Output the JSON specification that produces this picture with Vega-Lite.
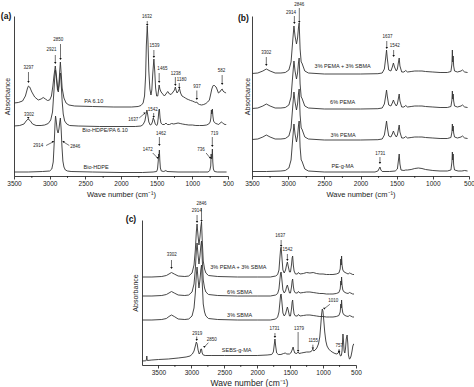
{
"$schema": "https://vega.github.io/schema/vega-lite/v6.json",
"padding": {"left": 0, "top": 1, "right": 0, "bottom": 0},
"config": {
 "view": {"stroke": null},
 "font": "Liberation Sans",
 "axis": {"labelOverlap": false},
 "axisX": {"grid": false, "domainColor": "#111", "domainWidth": 0.8, "tickColor": "#111", "tickSize": 3, "tickWidth": 0.8, "labelFontSize": 6.5, "labelColor": "#222", "labelPadding": 1.5, "titleFontSize": 7.5, "titleFontWeight": "normal", "titleColor": "#222", "titlePadding": 3, "labelFlush": false, "labelOverlap": false, "tickCount": 7},
 "axisY": {"grid": false, "labels": false, "ticks": false, "domainColor": "#111", "domainWidth": 0.8, "titleFontSize": 7, "titleFontWeight": "normal", "titleColor": "#222", "titlePadding": 4}
},
"datasets": {
 "minor": [{"x":3250},{"x":2750},{"x":2250},{"x":1750},{"x":1250},{"x":750}],
 "a_spectra": [
  {"s":"PA","x":3500,"y":73},{"s":"PA","x":3440,"y":73.5},{"s":"PA","x":3380,"y":75},{"s":"PA","x":3340,"y":80},{"s":"PA","x":3310,"y":88},{"s":"PA","x":3297,"y":90},{"s":"PA","x":3280,"y":89},{"s":"PA","x":3250,"y":84},{"s":"PA","x":3210,"y":79},{"s":"PA","x":3160,"y":76},{"s":"PA","x":3120,"y":77},{"s":"PA","x":3090,"y":78.5},{"s":"PA","x":3060,"y":77},{"s":"PA","x":3030,"y":75.5},{"s":"PA","x":3000,"y":76},{"s":"PA","x":2975,"y":80},{"s":"PA","x":2955,"y":90},{"s":"PA","x":2940,"y":100},{"s":"PA","x":2921,"y":110},{"s":"PA","x":2905,"y":100},{"s":"PA","x":2885,"y":86},{"s":"PA","x":2872,"y":90},{"s":"PA","x":2860,"y":104},{"s":"PA","x":2850,"y":114},{"s":"PA","x":2840,"y":104},{"s":"PA","x":2825,"y":88},{"s":"PA","x":2800,"y":78},{"s":"PA","x":2770,"y":73},{"s":"PA","x":2730,"y":71},{"s":"PA","x":2650,"y":70},{"s":"PA","x":2400,"y":69.5},{"s":"PA","x":2100,"y":69},{"s":"PA","x":1850,"y":69},{"s":"PA","x":1760,"y":69.5},{"s":"PA","x":1720,"y":70.5},{"s":"PA","x":1690,"y":73},{"s":"PA","x":1670,"y":80},{"s":"PA","x":1655,"y":100},{"s":"PA","x":1645,"y":130},{"s":"PA","x":1632,"y":150},{"s":"PA","x":1622,"y":135},{"s":"PA","x":1610,"y":105},{"s":"PA","x":1595,"y":87},{"s":"PA","x":1580,"y":81},{"s":"PA","x":1568,"y":86},{"s":"PA","x":1555,"y":102},{"s":"PA","x":1539,"y":117},{"s":"PA","x":1527,"y":105},{"s":"PA","x":1515,"y":88},{"s":"PA","x":1500,"y":80},{"s":"PA","x":1485,"y":80},{"s":"PA","x":1475,"y":85},{"s":"PA","x":1465,"y":91},{"s":"PA","x":1455,"y":87},{"s":"PA","x":1438,"y":84},{"s":"PA","x":1415,"y":82},{"s":"PA","x":1392,"y":80},{"s":"PA","x":1370,"y":82},{"s":"PA","x":1345,"y":84.5},{"s":"PA","x":1320,"y":82},{"s":"PA","x":1298,"y":81.5},{"s":"PA","x":1270,"y":84},{"s":"PA","x":1250,"y":86},{"s":"PA","x":1238,"y":89},{"s":"PA","x":1225,"y":85},{"s":"PA","x":1214,"y":83},{"s":"PA","x":1195,"y":85},{"s":"PA","x":1180,"y":87.5},{"s":"PA","x":1165,"y":83},{"s":"PA","x":1145,"y":80},{"s":"PA","x":1120,"y":79},{"s":"PA","x":1098,"y":78},{"s":"PA","x":1075,"y":77},{"s":"PA","x":1051,"y":76.3},{"s":"PA","x":1025,"y":75.5},{"s":"PA","x":1000,"y":75},{"s":"PA","x":970,"y":74},{"s":"PA","x":950,"y":73.5},{"s":"PA","x":937,"y":74},{"s":"PA","x":925,"y":72.5},{"s":"PA","x":900,"y":71.5},{"s":"PA","x":870,"y":71},{"s":"PA","x":840,"y":71.5},{"s":"PA","x":810,"y":72.5},{"s":"PA","x":785,"y":74},{"s":"PA","x":761,"y":76},{"s":"PA","x":745,"y":81},{"s":"PA","x":727,"y":87},{"s":"PA","x":712,"y":90},{"s":"PA","x":699,"y":91},{"s":"PA","x":685,"y":90},{"s":"PA","x":667,"y":89},{"s":"PA","x":650,"y":86},{"s":"PA","x":634,"y":83},{"s":"PA","x":615,"y":84},{"s":"PA","x":597,"y":86},{"s":"PA","x":582,"y":87},{"s":"PA","x":570,"y":85},{"s":"PA","x":555,"y":84},{"s":"PA","x":540,"y":83.5},{"s":"PA","x":527,"y":83},
  {"s":"MIX","x":3500,"y":50},{"s":"MIX","x":3420,"y":50.5},{"s":"MIX","x":3360,"y":52},{"s":"MIX","x":3330,"y":55},{"s":"MIX","x":3302,"y":57},{"s":"MIX","x":3275,"y":55.5},{"s":"MIX","x":3240,"y":52},{"s":"MIX","x":3190,"y":50.5},{"s":"MIX","x":3120,"y":50.5},{"s":"MIX","x":3070,"y":51},{"s":"MIX","x":3020,"y":52.5},{"s":"MIX","x":2985,"y":56},{"s":"MIX","x":2960,"y":64},{"s":"MIX","x":2940,"y":85},{"s":"MIX","x":2928,"y":100},{"s":"MIX","x":2918,"y":106},{"s":"MIX","x":2905,"y":97},{"s":"MIX","x":2890,"y":86},{"s":"MIX","x":2878,"y":84},{"s":"MIX","x":2866,"y":92},{"s":"MIX","x":2856,"y":101},{"s":"MIX","x":2848,"y":103},{"s":"MIX","x":2838,"y":92},{"s":"MIX","x":2825,"y":75},{"s":"MIX","x":2810,"y":62},{"s":"MIX","x":2790,"y":55},{"s":"MIX","x":2760,"y":52},{"s":"MIX","x":2720,"y":50.5},{"s":"MIX","x":2600,"y":50},{"s":"MIX","x":2300,"y":49.5},{"s":"MIX","x":2000,"y":49.5},{"s":"MIX","x":1800,"y":49.5},{"s":"MIX","x":1720,"y":50},{"s":"MIX","x":1690,"y":51.5},{"s":"MIX","x":1665,"y":55},{"s":"MIX","x":1650,"y":61},{"s":"MIX","x":1637,"y":66},{"s":"MIX","x":1625,"y":61},{"s":"MIX","x":1610,"y":54},{"s":"MIX","x":1590,"y":51},{"s":"MIX","x":1575,"y":51.5},{"s":"MIX","x":1560,"y":54},{"s":"MIX","x":1548,"y":58},{"s":"MIX","x":1535,"y":56},{"s":"MIX","x":1520,"y":52},{"s":"MIX","x":1500,"y":50.5},{"s":"MIX","x":1488,"y":52},{"s":"MIX","x":1478,"y":58},{"s":"MIX","x":1468,"y":66},{"s":"MIX","x":1462,"y":67},{"s":"MIX","x":1452,"y":58},{"s":"MIX","x":1440,"y":53},{"s":"MIX","x":1420,"y":51.5},{"s":"MIX","x":1390,"y":51.5},{"s":"MIX","x":1370,"y":53},{"s":"MIX","x":1350,"y":51.5},{"s":"MIX","x":1320,"y":51.5},{"s":"MIX","x":1290,"y":52.5},{"s":"MIX","x":1260,"y":52},{"s":"MIX","x":1230,"y":52.5},{"s":"MIX","x":1200,"y":53},{"s":"MIX","x":1170,"y":52.5},{"s":"MIX","x":1140,"y":52},{"s":"MIX","x":1100,"y":51.5},{"s":"MIX","x":1050,"y":51},{"s":"MIX","x":1000,"y":51},{"s":"MIX","x":950,"y":50.5},{"s":"MIX","x":900,"y":50.5},{"s":"MIX","x":850,"y":50.5},{"s":"MIX","x":800,"y":51},{"s":"MIX","x":770,"y":52},{"s":"MIX","x":750,"y":54},{"s":"MIX","x":740,"y":58},{"s":"MIX","x":733,"y":66},{"s":"MIX","x":728,"y":62},{"s":"MIX","x":722,"y":64},{"s":"MIX","x":719,"y":67},{"s":"MIX","x":712,"y":60},{"s":"MIX","x":702,"y":55},{"s":"MIX","x":690,"y":53.5},{"s":"MIX","x":670,"y":52.5},{"s":"MIX","x":650,"y":52},{"s":"MIX","x":630,"y":51.5},{"s":"MIX","x":610,"y":53},{"s":"MIX","x":595,"y":54},{"s":"MIX","x":580,"y":53.5},{"s":"MIX","x":560,"y":52},{"s":"MIX","x":540,"y":51.5},{"s":"MIX","x":525,"y":51.5},
  {"s":"HDPE","x":3500,"y":4},{"s":"HDPE","x":3300,"y":4},{"s":"HDPE","x":3100,"y":4.5},{"s":"HDPE","x":3000,"y":5},{"s":"HDPE","x":2970,"y":7},{"s":"HDPE","x":2950,"y":14},{"s":"HDPE","x":2935,"y":35},{"s":"HDPE","x":2925,"y":52},{"s":"HDPE","x":2918,"y":60},{"s":"HDPE","x":2908,"y":55},{"s":"HDPE","x":2895,"y":46},{"s":"HDPE","x":2882,"y":43},{"s":"HDPE","x":2870,"y":47},{"s":"HDPE","x":2858,"y":54},{"s":"HDPE","x":2850,"y":58},{"s":"HDPE","x":2840,"y":48},{"s":"HDPE","x":2828,"y":30},{"s":"HDPE","x":2815,"y":15},{"s":"HDPE","x":2800,"y":9},{"s":"HDPE","x":2780,"y":6},{"s":"HDPE","x":2750,"y":5},{"s":"HDPE","x":2700,"y":4.5},{"s":"HDPE","x":2400,"y":4},{"s":"HDPE","x":2000,"y":3.5},{"s":"HDPE","x":1700,"y":3.5},{"s":"HDPE","x":1550,"y":4},{"s":"HDPE","x":1500,"y":4.5},{"s":"HDPE","x":1488,"y":7},{"s":"HDPE","x":1478,"y":15},{"s":"HDPE","x":1472,"y":22},{"s":"HDPE","x":1468,"y":19},{"s":"HDPE","x":1462,"y":26},{"s":"HDPE","x":1456,"y":16},{"s":"HDPE","x":1448,"y":8},{"s":"HDPE","x":1435,"y":5},{"s":"HDPE","x":1400,"y":4.5},{"s":"HDPE","x":1370,"y":5.5},{"s":"HDPE","x":1355,"y":4.5},{"s":"HDPE","x":1200,"y":4},{"s":"HDPE","x":900,"y":4},{"s":"HDPE","x":780,"y":4},{"s":"HDPE","x":755,"y":5.5},{"s":"HDPE","x":742,"y":10},{"s":"HDPE","x":736,"y":22},{"s":"HDPE","x":730,"y":17},{"s":"HDPE","x":724,"y":19},{"s":"HDPE","x":719,"y":27},{"s":"HDPE","x":713,"y":14},{"s":"HDPE","x":705,"y":7},{"s":"HDPE","x":690,"y":4.5},{"s":"HDPE","x":650,"y":4},{"s":"HDPE","x":520,"y":4}
 ],
 "a_labels": [
  {"t":"3297","x":3297,"y":108},{"t":"2921","x":2975,"y":126},{"t":"2850","x":2879,"y":136},{"t":"1632","x":1635,"y":159},{"t":"1539","x":1532,"y":130},{"t":"1465","x":1420,"y":107},{"t":"1238","x":1232,"y":102},{"t":"1180","x":1150,"y":96},{"t":"937","x":933,"y":89},{"t":"582","x":590,"y":105},{"t":"3302","x":3290,"y":61.5},{"t":"1637","x":1830,"y":56},{"t":"1542","x":1555,"y":66.5},{"t":"2914","x":3160,"y":30},{"t":"2846","x":2640,"y":29},{"t":"1472","x":1625,"y":26.5},{"t":"1462","x":1440,"y":42.5},{"t":"736","x":880,"y":26.5},{"t":"719","x":690,"y":42.5}
 ],
 "a_arrows": [
  {"x1":3297,"y1":104,"x2":3297,"y2":94},{"x1":2921,"y1":121,"x2":2921,"y2":113},{"x1":2848,"y1":132,"x2":2848,"y2":117},{"x1":1632,"y1":155,"x2":1632,"y2":151},{"x1":1539,"y1":126,"x2":1539,"y2":119},{"x1":1465,"y1":103,"x2":1465,"y2":94},{"x1":1238,"y1":99,"x2":1238,"y2":91},{"x1":1183,"y1":93,"x2":1183,"y2":88},{"x1":937,"y1":85.5,"x2":937,"y2":77},{"x1":582,"y1":101,"x2":582,"y2":92},{"x1":3300,"y1":59,"x2":3300,"y2":58},{"x1":1745,"y1":58,"x2":1670,"y2":62.5},{"x1":1542,"y1":63,"x2":1542,"y2":59},{"x1":3050,"y1":30.5,"x2":2955,"y2":34},{"x1":2725,"y1":30.5,"x2":2805,"y2":34},{"x1":1555,"y1":23,"x2":1487,"y2":18},{"x1":1462,"y1":39,"x2":1462,"y2":31},{"x1":807,"y1":23,"x2":750,"y2":18},{"x1":720,"y1":39,"x2":720,"y2":30}
 ],
 "a_names": [
  {"t":"PA 6.10","x":2382,"y":74.7},{"t":"Bio-HDPE/PA 6.10","x":2224,"y":45.7},{"t":"Bio-HDPE","x":2350,"y":9}
 ],
 "b_spectra": [
  {"s":"T","x":3500,"y":102.5},{"s":"T","x":3420,"y":103},{"s":"T","x":3350,"y":105},{"s":"T","x":3302,"y":107},{"s":"T","x":3250,"y":105},{"s":"T","x":3180,"y":103},{"s":"T","x":3100,"y":103},{"s":"T","x":3040,"y":103.5},{"s":"T","x":2990,"y":106},{"s":"T","x":2960,"y":114},{"s":"T","x":2935,"y":137},{"s":"T","x":2920,"y":150},{"s":"T","x":2905,"y":140},{"s":"T","x":2885,"y":132},{"s":"T","x":2870,"y":138},{"s":"T","x":2858,"y":148},{"s":"T","x":2848,"y":153},{"s":"T","x":2835,"y":127},{"s":"T","x":2820,"y":114},{"s":"T","x":2810,"y":113},{"s":"T","x":2795,"y":110},{"s":"T","x":2770,"y":105},{"s":"T","x":2720,"y":103},{"s":"T","x":2500,"y":102},{"s":"T","x":2000,"y":102},{"s":"T","x":1760,"y":102.3},{"s":"T","x":1700,"y":103},{"s":"T","x":1670,"y":107},{"s":"T","x":1652,"y":118},{"s":"T","x":1640,"y":126},{"s":"T","x":1630,"y":118},{"s":"T","x":1610,"y":106},{"s":"T","x":1580,"y":105},{"s":"T","x":1560,"y":109},{"s":"T","x":1545,"y":113},{"s":"T","x":1530,"y":109},{"s":"T","x":1505,"y":105},{"s":"T","x":1490,"y":107},{"s":"T","x":1475,"y":114},{"s":"T","x":1465,"y":118},{"s":"T","x":1455,"y":110},{"s":"T","x":1430,"y":104},{"s":"T","x":1400,"y":104},{"s":"T","x":1375,"y":105.5},{"s":"T","x":1350,"y":104},{"s":"T","x":1300,"y":104.5},{"s":"T","x":1250,"y":105},{"s":"T","x":1200,"y":105},{"s":"T","x":1150,"y":105},{"s":"T","x":1100,"y":104.5},{"s":"T","x":1000,"y":104},{"s":"T","x":900,"y":103.5},{"s":"T","x":800,"y":103.5},{"s":"T","x":750,"y":104.5},{"s":"T","x":736,"y":112},{"s":"T","x":730,"y":126},{"s":"T","x":725,"y":114},{"s":"T","x":719,"y":120},{"s":"T","x":712,"y":110},{"s":"T","x":700,"y":105},{"s":"T","x":660,"y":104},{"s":"T","x":610,"y":105},{"s":"T","x":590,"y":106},{"s":"T","x":560,"y":104},{"s":"T","x":520,"y":103.5},
  {"s":"P6","x":3500,"y":67.5},{"s":"P6","x":3420,"y":68},{"s":"P6","x":3350,"y":70},{"s":"P6","x":3302,"y":72},{"s":"P6","x":3250,"y":70},{"s":"P6","x":3180,"y":68},{"s":"P6","x":3100,"y":68},{"s":"P6","x":3040,"y":68.5},{"s":"P6","x":2990,"y":71},{"s":"P6","x":2960,"y":79},{"s":"P6","x":2935,"y":102},{"s":"P6","x":2920,"y":115},{"s":"P6","x":2905,"y":105},{"s":"P6","x":2885,"y":97},{"s":"P6","x":2870,"y":103},{"s":"P6","x":2858,"y":113},{"s":"P6","x":2848,"y":118},{"s":"P6","x":2835,"y":92},{"s":"P6","x":2820,"y":79},{"s":"P6","x":2810,"y":78},{"s":"P6","x":2795,"y":75},{"s":"P6","x":2770,"y":70},{"s":"P6","x":2720,"y":68},{"s":"P6","x":2500,"y":67},{"s":"P6","x":2000,"y":67},{"s":"P6","x":1760,"y":67.3},{"s":"P6","x":1700,"y":68},{"s":"P6","x":1670,"y":72},{"s":"P6","x":1652,"y":80},{"s":"P6","x":1640,"y":86},{"s":"P6","x":1630,"y":80},{"s":"P6","x":1610,"y":71},{"s":"P6","x":1580,"y":70},{"s":"P6","x":1560,"y":73},{"s":"P6","x":1545,"y":76},{"s":"P6","x":1530,"y":73},{"s":"P6","x":1505,"y":70},{"s":"P6","x":1490,"y":72},{"s":"P6","x":1475,"y":78},{"s":"P6","x":1465,"y":82},{"s":"P6","x":1455,"y":75},{"s":"P6","x":1430,"y":69},{"s":"P6","x":1400,"y":69},{"s":"P6","x":1375,"y":70.5},{"s":"P6","x":1350,"y":69},{"s":"P6","x":1300,"y":69.5},{"s":"P6","x":1250,"y":70},{"s":"P6","x":1200,"y":70},{"s":"P6","x":1150,"y":70},{"s":"P6","x":1100,"y":69.5},{"s":"P6","x":1000,"y":69},{"s":"P6","x":900,"y":68.5},{"s":"P6","x":800,"y":68.5},{"s":"P6","x":750,"y":69.5},{"s":"P6","x":736,"y":76},{"s":"P6","x":730,"y":85},{"s":"P6","x":725,"y":77},{"s":"P6","x":719,"y":82},{"s":"P6","x":712,"y":75},{"s":"P6","x":700,"y":70},{"s":"P6","x":660,"y":69},{"s":"P6","x":610,"y":70},{"s":"P6","x":590,"y":71},{"s":"P6","x":560,"y":69},{"s":"P6","x":520,"y":68.5},
  {"s":"P3","x":3500,"y":36.5},{"s":"P3","x":3420,"y":37},{"s":"P3","x":3350,"y":39},{"s":"P3","x":3302,"y":41},{"s":"P3","x":3250,"y":39},{"s":"P3","x":3180,"y":37},{"s":"P3","x":3100,"y":37},{"s":"P3","x":3040,"y":37.5},{"s":"P3","x":2990,"y":40},{"s":"P3","x":2960,"y":48},{"s":"P3","x":2935,"y":71},{"s":"P3","x":2920,"y":84},{"s":"P3","x":2905,"y":74},{"s":"P3","x":2885,"y":66},{"s":"P3","x":2870,"y":72},{"s":"P3","x":2858,"y":82},{"s":"P3","x":2848,"y":87},{"s":"P3","x":2835,"y":61},{"s":"P3","x":2820,"y":48},{"s":"P3","x":2810,"y":47},{"s":"P3","x":2795,"y":44},{"s":"P3","x":2770,"y":39},{"s":"P3","x":2720,"y":37},{"s":"P3","x":2500,"y":36},{"s":"P3","x":2000,"y":36},{"s":"P3","x":1760,"y":36.3},{"s":"P3","x":1700,"y":37},{"s":"P3","x":1670,"y":41},{"s":"P3","x":1652,"y":49},{"s":"P3","x":1640,"y":55},{"s":"P3","x":1630,"y":49},{"s":"P3","x":1610,"y":40},{"s":"P3","x":1580,"y":39},{"s":"P3","x":1560,"y":42},{"s":"P3","x":1545,"y":45},{"s":"P3","x":1530,"y":42},{"s":"P3","x":1505,"y":39},{"s":"P3","x":1490,"y":41},{"s":"P3","x":1475,"y":47},{"s":"P3","x":1465,"y":51},{"s":"P3","x":1455,"y":44},{"s":"P3","x":1430,"y":38},{"s":"P3","x":1400,"y":38},{"s":"P3","x":1375,"y":39.5},{"s":"P3","x":1350,"y":38},{"s":"P3","x":1300,"y":38.5},{"s":"P3","x":1250,"y":39},{"s":"P3","x":1200,"y":39},{"s":"P3","x":1150,"y":39},{"s":"P3","x":1100,"y":38.5},{"s":"P3","x":1000,"y":38},{"s":"P3","x":900,"y":37.5},{"s":"P3","x":800,"y":37.5},{"s":"P3","x":750,"y":38.5},{"s":"P3","x":736,"y":44},{"s":"P3","x":730,"y":52},{"s":"P3","x":725,"y":45},{"s":"P3","x":719,"y":50},{"s":"P3","x":712,"y":43},{"s":"P3","x":700,"y":39},{"s":"P3","x":660,"y":38},{"s":"P3","x":610,"y":39},{"s":"P3","x":590,"y":40},{"s":"P3","x":560,"y":38},{"s":"P3","x":520,"y":37.5},
  {"s":"PG","x":3500,"y":4.5},{"s":"PG","x":3300,"y":4.5},{"s":"PG","x":3100,"y":5},{"s":"PG","x":3040,"y":5.5},{"s":"PG","x":2990,"y":8},{"s":"PG","x":2960,"y":16},{"s":"PG","x":2935,"y":39},{"s":"PG","x":2920,"y":52},{"s":"PG","x":2905,"y":42},{"s":"PG","x":2885,"y":34},{"s":"PG","x":2870,"y":40},{"s":"PG","x":2858,"y":50},{"s":"PG","x":2848,"y":55},{"s":"PG","x":2835,"y":29},{"s":"PG","x":2820,"y":16},{"s":"PG","x":2810,"y":15},{"s":"PG","x":2795,"y":12},{"s":"PG","x":2770,"y":7},{"s":"PG","x":2720,"y":5},{"s":"PG","x":2500,"y":4},{"s":"PG","x":2000,"y":4},{"s":"PG","x":1800,"y":4},{"s":"PG","x":1760,"y":5},{"s":"PG","x":1745,"y":7},{"s":"PG","x":1731,"y":9},{"s":"PG","x":1718,"y":6},{"s":"PG","x":1700,"y":4.5},{"s":"PG","x":1600,"y":4.5},{"s":"PG","x":1520,"y":5},{"s":"PG","x":1490,"y":7},{"s":"PG","x":1475,"y":16},{"s":"PG","x":1465,"y":22},{"s":"PG","x":1455,"y":12},{"s":"PG","x":1440,"y":6},{"s":"PG","x":1400,"y":5.5},{"s":"PG","x":1375,"y":6},{"s":"PG","x":1350,"y":6},{"s":"PG","x":1300,"y":6.5},{"s":"PG","x":1250,"y":7.5},{"s":"PG","x":1200,"y":8},{"s":"PG","x":1150,"y":7.5},{"s":"PG","x":1100,"y":6.5},{"s":"PG","x":1000,"y":5.5},{"s":"PG","x":900,"y":5},{"s":"PG","x":800,"y":5},{"s":"PG","x":750,"y":6},{"s":"PG","x":736,"y":14},{"s":"PG","x":730,"y":24},{"s":"PG","x":725,"y":16},{"s":"PG","x":719,"y":22},{"s":"PG","x":712,"y":11},{"s":"PG","x":700,"y":6},{"s":"PG","x":650,"y":5},{"s":"PG","x":600,"y":5},{"s":"PG","x":560,"y":5.5},{"s":"PG","x":520,"y":5}
 ],
 "b_labels": [
  {"t":"3302","x":3304,"y":123},{"t":"2914","x":2962,"y":163},{"t":"2846","x":2846,"y":171},{"t":"1637","x":1628,"y":139},{"t":"1542","x":1525,"y":130},{"t":"1731","x":1726,"y":22.5}
 ],
 "b_arrows": [
  {"x1":3302,"y1":119,"x2":3302,"y2":111},{"x1":2914,"y1":160,"x2":2914,"y2":153},{"x1":2846,"y1":168,"x2":2846,"y2":154},{"x1":1637,"y1":135,"x2":1637,"y2":128},{"x1":1542,"y1":126,"x2":1542,"y2":120},{"x1":1731,"y1":19,"x2":1731,"y2":13}
 ],
 "b_names": [
  {"t":"3% PEMA + 3% SBMA","x":2247,"y":109.7},{"t":"6% PEMA","x":2247,"y":73.7},{"t":"3% PEMA","x":2240,"y":40.7},{"t":"PE-g-MA","x":2247,"y":10.3}
 ],
 "c_spectra": [
  {"s":"T","x":3750,"y":88},{"s":"T","x":3600,"y":88},{"s":"T","x":3450,"y":88.5},{"s":"T","x":3380,"y":89.5},{"s":"T","x":3340,"y":91},{"s":"T","x":3302,"y":92.5},{"s":"T","x":3260,"y":91},{"s":"T","x":3200,"y":89},{"s":"T","x":3100,"y":88.5},{"s":"T","x":3040,"y":89},{"s":"T","x":2990,"y":92},{"s":"T","x":2960,"y":100},{"s":"T","x":2940,"y":115},{"s":"T","x":2925,"y":133},{"s":"T","x":2914,"y":141},{"s":"T","x":2900,"y":130},{"s":"T","x":2885,"y":120},{"s":"T","x":2870,"y":128},{"s":"T","x":2857,"y":138},{"s":"T","x":2846,"y":143},{"s":"T","x":2835,"y":125},{"s":"T","x":2820,"y":104},{"s":"T","x":2800,"y":96},{"s":"T","x":2780,"y":92},{"s":"T","x":2740,"y":89.5},{"s":"T","x":2600,"y":88.5},{"s":"T","x":2300,"y":88},{"s":"T","x":2000,"y":88},{"s":"T","x":1800,"y":88},{"s":"T","x":1720,"y":89},{"s":"T","x":1690,"y":90.5},{"s":"T","x":1670,"y":95},{"s":"T","x":1655,"y":108},{"s":"T","x":1645,"y":116},{"s":"T","x":1637,"y":118},{"s":"T","x":1628,"y":110},{"s":"T","x":1610,"y":95},{"s":"T","x":1590,"y":92},{"s":"T","x":1570,"y":95},{"s":"T","x":1555,"y":100},{"s":"T","x":1542,"y":103},{"s":"T","x":1530,"y":99},{"s":"T","x":1510,"y":93},{"s":"T","x":1495,"y":93},{"s":"T","x":1480,"y":100},{"s":"T","x":1470,"y":107},{"s":"T","x":1462,"y":109},{"s":"T","x":1452,"y":100},{"s":"T","x":1440,"y":94},{"s":"T","x":1420,"y":91},{"s":"T","x":1390,"y":91},{"s":"T","x":1375,"y":92.5},{"s":"T","x":1350,"y":91},{"s":"T","x":1300,"y":91.5},{"s":"T","x":1250,"y":92.5},{"s":"T","x":1200,"y":92},{"s":"T","x":1150,"y":92.5},{"s":"T","x":1100,"y":91.5},{"s":"T","x":1050,"y":91},{"s":"T","x":1000,"y":91},{"s":"T","x":950,"y":90.5},{"s":"T","x":900,"y":90.5},{"s":"T","x":850,"y":90.5},{"s":"T","x":800,"y":91},{"s":"T","x":760,"y":92},{"s":"T","x":740,"y":96},{"s":"T","x":730,"y":106},{"s":"T","x":725,"y":100},{"s":"T","x":719,"y":109},{"s":"T","x":712,"y":100},{"s":"T","x":700,"y":95},{"s":"T","x":680,"y":93},{"s":"T","x":650,"y":92},{"s":"T","x":620,"y":91},{"s":"T","x":600,"y":92},{"s":"T","x":580,"y":91.5},{"s":"T","x":550,"y":90.5},{"s":"T","x":530,"y":90.5},
  {"s":"S6","x":3750,"y":69},{"s":"S6","x":3600,"y":69},{"s":"S6","x":3450,"y":69.5},{"s":"S6","x":3380,"y":70.5},{"s":"S6","x":3340,"y":72},{"s":"S6","x":3302,"y":73.5},{"s":"S6","x":3260,"y":72},{"s":"S6","x":3200,"y":70},{"s":"S6","x":3100,"y":69.5},{"s":"S6","x":3040,"y":70},{"s":"S6","x":2990,"y":73},{"s":"S6","x":2960,"y":81},{"s":"S6","x":2940,"y":96},{"s":"S6","x":2925,"y":114},{"s":"S6","x":2914,"y":122},{"s":"S6","x":2900,"y":111},{"s":"S6","x":2885,"y":101},{"s":"S6","x":2870,"y":109},{"s":"S6","x":2857,"y":119},{"s":"S6","x":2846,"y":124},{"s":"S6","x":2835,"y":106},{"s":"S6","x":2820,"y":85},{"s":"S6","x":2800,"y":77},{"s":"S6","x":2780,"y":73},{"s":"S6","x":2740,"y":70.5},{"s":"S6","x":2600,"y":69.5},{"s":"S6","x":2300,"y":69},{"s":"S6","x":2000,"y":69},{"s":"S6","x":1800,"y":69},{"s":"S6","x":1720,"y":70},{"s":"S6","x":1690,"y":71.5},{"s":"S6","x":1670,"y":76},{"s":"S6","x":1655,"y":86},{"s":"S6","x":1645,"y":92},{"s":"S6","x":1637,"y":93},{"s":"S6","x":1628,"y":87},{"s":"S6","x":1610,"y":75},{"s":"S6","x":1590,"y":72},{"s":"S6","x":1570,"y":74},{"s":"S6","x":1555,"y":78},{"s":"S6","x":1542,"y":80},{"s":"S6","x":1530,"y":77},{"s":"S6","x":1510,"y":72},{"s":"S6","x":1495,"y":72},{"s":"S6","x":1480,"y":78},{"s":"S6","x":1470,"y":84},{"s":"S6","x":1462,"y":86},{"s":"S6","x":1452,"y":79},{"s":"S6","x":1440,"y":74},{"s":"S6","x":1420,"y":72},{"s":"S6","x":1390,"y":72},{"s":"S6","x":1375,"y":73.5},{"s":"S6","x":1350,"y":72},{"s":"S6","x":1300,"y":72.5},{"s":"S6","x":1250,"y":73},{"s":"S6","x":1200,"y":73},{"s":"S6","x":1150,"y":72.5},{"s":"S6","x":1100,"y":72},{"s":"S6","x":1050,"y":71.5},{"s":"S6","x":1000,"y":71.5},{"s":"S6","x":950,"y":71},{"s":"S6","x":900,"y":71},{"s":"S6","x":850,"y":71},{"s":"S6","x":800,"y":71.5},{"s":"S6","x":760,"y":72.5},{"s":"S6","x":740,"y":76},{"s":"S6","x":730,"y":84},{"s":"S6","x":725,"y":80},{"s":"S6","x":719,"y":88},{"s":"S6","x":712,"y":80},{"s":"S6","x":700,"y":75},{"s":"S6","x":680,"y":73},{"s":"S6","x":650,"y":72},{"s":"S6","x":620,"y":71.5},{"s":"S6","x":600,"y":72.5},{"s":"S6","x":580,"y":72},{"s":"S6","x":550,"y":71},{"s":"S6","x":530,"y":71},
  {"s":"S3","x":3750,"y":45},{"s":"S3","x":3600,"y":45},{"s":"S3","x":3450,"y":45.5},{"s":"S3","x":3380,"y":46.5},{"s":"S3","x":3340,"y":48.5},{"s":"S3","x":3302,"y":50},{"s":"S3","x":3260,"y":48.5},{"s":"S3","x":3200,"y":46},{"s":"S3","x":3100,"y":45.5},{"s":"S3","x":3040,"y":46},{"s":"S3","x":2990,"y":49},{"s":"S3","x":2960,"y":57},{"s":"S3","x":2940,"y":72},{"s":"S3","x":2925,"y":90},{"s":"S3","x":2914,"y":98},{"s":"S3","x":2900,"y":87},{"s":"S3","x":2885,"y":77},{"s":"S3","x":2870,"y":85},{"s":"S3","x":2857,"y":95},{"s":"S3","x":2846,"y":100},{"s":"S3","x":2835,"y":82},{"s":"S3","x":2820,"y":61},{"s":"S3","x":2800,"y":53},{"s":"S3","x":2780,"y":49},{"s":"S3","x":2740,"y":46.5},{"s":"S3","x":2600,"y":45.5},{"s":"S3","x":2300,"y":45},{"s":"S3","x":2000,"y":45},{"s":"S3","x":1800,"y":45},{"s":"S3","x":1720,"y":46},{"s":"S3","x":1690,"y":48},{"s":"S3","x":1670,"y":53},{"s":"S3","x":1655,"y":63},{"s":"S3","x":1645,"y":70},{"s":"S3","x":1637,"y":71},{"s":"S3","x":1628,"y":65},{"s":"S3","x":1610,"y":52},{"s":"S3","x":1590,"y":49},{"s":"S3","x":1570,"y":51},{"s":"S3","x":1555,"y":55},{"s":"S3","x":1542,"y":58},{"s":"S3","x":1530,"y":55},{"s":"S3","x":1510,"y":49},{"s":"S3","x":1495,"y":49},{"s":"S3","x":1480,"y":56},{"s":"S3","x":1470,"y":63},{"s":"S3","x":1462,"y":65},{"s":"S3","x":1452,"y":57},{"s":"S3","x":1440,"y":51},{"s":"S3","x":1420,"y":49},{"s":"S3","x":1390,"y":49},{"s":"S3","x":1375,"y":50.5},{"s":"S3","x":1350,"y":49},{"s":"S3","x":1300,"y":49.5},{"s":"S3","x":1250,"y":50},{"s":"S3","x":1200,"y":50},{"s":"S3","x":1150,"y":49.5},{"s":"S3","x":1100,"y":49},{"s":"S3","x":1050,"y":48.5},{"s":"S3","x":1000,"y":48.5},{"s":"S3","x":950,"y":48},{"s":"S3","x":900,"y":48},{"s":"S3","x":850,"y":48},{"s":"S3","x":800,"y":48.5},{"s":"S3","x":760,"y":49.5},{"s":"S3","x":740,"y":53},{"s":"S3","x":730,"y":61},{"s":"S3","x":725,"y":57},{"s":"S3","x":719,"y":65},{"s":"S3","x":712,"y":57},{"s":"S3","x":700,"y":52},{"s":"S3","x":680,"y":50},{"s":"S3","x":650,"y":49},{"s":"S3","x":620,"y":48.5},{"s":"S3","x":600,"y":49.5},{"s":"S3","x":580,"y":49},{"s":"S3","x":550,"y":48},{"s":"S3","x":530,"y":48},
  {"s":"SE","x":3750,"y":4},{"s":"SE","x":3700,"y":4.2},{"s":"SE","x":3685,"y":4.5},{"s":"SE","x":3677,"y":9},{"s":"SE","x":3670,"y":4.5},{"s":"SE","x":3600,"y":5},{"s":"SE","x":3500,"y":5.5},{"s":"SE","x":3350,"y":6},{"s":"SE","x":3200,"y":7},{"s":"SE","x":3080,"y":8},{"s":"SE","x":3020,"y":9},{"s":"SE","x":2985,"y":11},{"s":"SE","x":2960,"y":14},{"s":"SE","x":2940,"y":19},{"s":"SE","x":2925,"y":23},{"s":"SE","x":2912,"y":21},{"s":"SE","x":2898,"y":15},{"s":"SE","x":2882,"y":11},{"s":"SE","x":2868,"y":12},{"s":"SE","x":2856,"y":16},{"s":"SE","x":2846,"y":16},{"s":"SE","x":2836,"y":12},{"s":"SE","x":2820,"y":10},{"s":"SE","x":2790,"y":9.5},{"s":"SE","x":2700,"y":9.5},{"s":"SE","x":2500,"y":9.5},{"s":"SE","x":2200,"y":9.5},{"s":"SE","x":2000,"y":9.5},{"s":"SE","x":1850,"y":10},{"s":"SE","x":1780,"y":10.5},{"s":"SE","x":1755,"y":13},{"s":"SE","x":1742,"y":20},{"s":"SE","x":1731,"y":26},{"s":"SE","x":1720,"y":19},{"s":"SE","x":1705,"y":12},{"s":"SE","x":1680,"y":10.5},{"s":"SE","x":1640,"y":10.5},{"s":"SE","x":1600,"y":11.5},{"s":"SE","x":1575,"y":12},{"s":"SE","x":1550,"y":11},{"s":"SE","x":1510,"y":11},{"s":"SE","x":1490,"y":12},{"s":"SE","x":1470,"y":15},{"s":"SE","x":1455,"y":18},{"s":"SE","x":1445,"y":15},{"s":"SE","x":1430,"y":12},{"s":"SE","x":1400,"y":11.5},{"s":"SE","x":1379,"y":13},{"s":"SE","x":1365,"y":11.5},{"s":"SE","x":1330,"y":12},{"s":"SE","x":1290,"y":12.5},{"s":"SE","x":1250,"y":13},{"s":"SE","x":1210,"y":13},{"s":"SE","x":1180,"y":13.5},{"s":"SE","x":1160,"y":15.5},{"s":"SE","x":1150,"y":15.5},{"s":"SE","x":1140,"y":14},{"s":"SE","x":1120,"y":15},{"s":"SE","x":1095,"y":17},{"s":"SE","x":1070,"y":21},{"s":"SE","x":1050,"y":28},{"s":"SE","x":1035,"y":40},{"s":"SE","x":1022,"y":51},{"s":"SE","x":1012,"y":56},{"s":"SE","x":1002,"y":54},{"s":"SE","x":990,"y":45},{"s":"SE","x":975,"y":33},{"s":"SE","x":958,"y":24},{"s":"SE","x":940,"y":19},{"s":"SE","x":915,"y":16},{"s":"SE","x":885,"y":14},{"s":"SE","x":850,"y":12.5},{"s":"SE","x":820,"y":11.5},{"s":"SE","x":790,"y":11},{"s":"SE","x":770,"y":12},{"s":"SE","x":757,"y":14.5},{"s":"SE","x":748,"y":11},{"s":"SE","x":735,"y":9},{"s":"SE","x":722,"y":9.5},{"s":"SE","x":712,"y":14},{"s":"SE","x":704,"y":24},{"s":"SE","x":698,"y":31},{"s":"SE","x":690,"y":24},{"s":"SE","x":680,"y":14},{"s":"SE","x":670,"y":12},{"s":"SE","x":660,"y":16},{"s":"SE","x":648,"y":26},{"s":"SE","x":635,"y":30},{"s":"SE","x":625,"y":22},{"s":"SE","x":615,"y":10},{"s":"SE","x":600,"y":6},{"s":"SE","x":588,"y":6.5},{"s":"SE","x":575,"y":9},{"s":"SE","x":560,"y":14},{"s":"SE","x":548,"y":19},{"s":"SE","x":535,"y":21},{"s":"SE","x":530,"y":21}
 ],
 "c_labels": [
  {"t":"3302","x":3300,"y":110},{"t":"2914","x":2920,"y":154},{"t":"2846","x":2846,"y":161},{"t":"1637","x":1650,"y":129},{"t":"1542","x":1542,"y":115},{"t":"1010","x":845,"y":64},{"t":"2919","x":2910,"y":31.5},{"t":"2850","x":2692,"y":25.5},{"t":"1731","x":1736,"y":36},{"t":"1379","x":1367,"y":36.5},{"t":"1155","x":1149,"y":24},{"t":"757","x":754,"y":19}
 ],
 "c_arrows": [
  {"x1":3302,"y1":105,"x2":3302,"y2":97},{"x1":2914,"y1":150,"x2":2914,"y2":143},{"x1":2846,"y1":157,"x2":2846,"y2":144},{"x1":1637,"y1":125,"x2":1637,"y2":119},{"x1":1542,"y1":111,"x2":1542,"y2":105},{"x1":897,"y1":60.7,"x2":982,"y2":56.3},{"x1":2919,"y1":28.5,"x2":2919,"y2":25},{"x1":2742,"y1":22.3,"x2":2803,"y2":18},{"x1":1731,"y1":32,"x2":1731,"y2":28},{"x1":1379,"y1":33,"x2":1379,"y2":14},{"x1":1155,"y1":20.3,"x2":1155,"y2":16.5},{"x1":757,"y1":16,"x2":757,"y2":13}
 ],
 "c_names": [
  {"t":"3% PEMA + 3% SBMA","x":2287,"y":98},{"t":"6% SBMA","x":2267,"y":73},{"t":"3% SBMA","x":2267,"y":50},{"t":"SEBS-g-MA","x":2313,"y":15}
 ]
},
"spacing": 3,
"vconcat": [
 {
  "bounds": "flush",
  "spacing": 24,
  "hconcat": [
   {
    "width": 214, "height": 160,
    "layer": [
     {"data": {"name": "a_spectra"}, "mark": {"type": "line", "color": "#333", "strokeWidth": 0.9},
      "encoding": {
       "x": {"field": "x", "type": "quantitative", "scale": {"domain": [3500, 500], "nice": false, "zero": false}, "axis": {"title": "Wave number (cm⁻¹)", "values": [3500, 3000, 2500, 2000, 1500, 1000, 500], "format": "d", "labelOverlap": false}},
       "y": {"field": "y", "type": "quantitative", "scale": {"domain": [0, 160], "nice": false, "zero": false}, "axis": {"title": "Absorbance"}},
       "detail": {"field": "s", "type": "nominal"}}},
     {"data": {"name": "minor"}, "mark": {"type": "rule", "color": "#111", "strokeWidth": 0.7},
      "encoding": {"x": {"field": "x", "type": "quantitative", "axis": {"title": "Wave number (cm⁻¹)", "values": [3500, 3000, 2500, 2000, 1500, 1000, 500], "format": "d", "labelOverlap": false}}, "y": {"datum": 0, "type": "quantitative", "axis": {"title": "Absorbance"}}, "y2": {"datum": -2}}},
     {"data": {"name": "a_arrows"}, "mark": {"type": "rule", "color": "#111", "strokeWidth": 0.6},
      "encoding": {"x": {"field": "x1", "type": "quantitative", "axis": {"title": "Wave number (cm⁻¹)", "values": [3500, 3000, 2500, 2000, 1500, 1000, 500], "format": "d", "labelOverlap": false}}, "y": {"field": "y1", "type": "quantitative", "axis": {"title": "Absorbance"}}, "x2": {"field": "x2"}, "y2": {"field": "y2"}}},
     {"data": {"name": "a_arrows"}, "mark": {"type": "point", "shape": "triangle-down", "filled": true, "size": 6, "color": "#111", "opacity": 1},
      "encoding": {"x": {"field": "x2", "type": "quantitative", "axis": {"title": "Wave number (cm⁻¹)", "values": [3500, 3000, 2500, 2000, 1500, 1000, 500], "format": "d", "labelOverlap": false}}, "y": {"field": "y2", "type": "quantitative", "axis": {"title": "Absorbance"}}}},
     {"data": {"name": "a_labels"}, "mark": {"type": "text", "fontSize": 4.5, "color": "#222"},
      "encoding": {"x": {"field": "x", "type": "quantitative", "axis": {"title": "Wave number (cm⁻¹)", "values": [3500, 3000, 2500, 2000, 1500, 1000, 500], "format": "d", "labelOverlap": false}}, "y": {"field": "y", "type": "quantitative", "axis": {"title": "Absorbance"}}, "text": {"field": "t", "type": "nominal"}}},
     {"data": {"name": "a_names"}, "mark": {"type": "text", "fontSize": 5.5, "color": "#222"},
      "encoding": {"x": {"field": "x", "type": "quantitative", "axis": {"title": "Wave number (cm⁻¹)", "values": [3500, 3000, 2500, 2000, 1500, 1000, 500], "format": "d", "labelOverlap": false}}, "y": {"field": "y", "type": "quantitative", "axis": {"title": "Absorbance"}}, "text": {"field": "t", "type": "nominal"}}},
     {"data": {"values": [{"t": "(a)", "x": 3612, "y": 160}]}, "mark": {"type": "text", "fontSize": 8.5, "fontWeight": "bold", "color": "#111"},
      "encoding": {"x": {"field": "x", "type": "quantitative", "axis": {"title": "Wave number (cm⁻¹)", "values": [3500, 3000, 2500, 2000, 1500, 1000, 500], "format": "d", "labelOverlap": false}}, "y": {"field": "y", "type": "quantitative", "axis": {"title": "Absorbance"}}, "text": {"field": "t", "type": "nominal"}}}
    ]
   },
   {
    "width": 217, "height": 160,
    "layer": [
     {"data": {"name": "b_spectra"}, "mark": {"type": "line", "color": "#333", "strokeWidth": 0.9},
      "encoding": {
       "x": {"field": "x", "type": "quantitative", "scale": {"domain": [3500, 500], "nice": false, "zero": false}, "axis": {"title": "Wave number (cm⁻¹)", "values": [3500, 3000, 2500, 2000, 1500, 1000, 500], "format": "d", "labelOverlap": false}},
       "y": {"field": "y", "type": "quantitative", "scale": {"domain": [0, 160], "nice": false, "zero": false}, "axis": {"title": "Absorbance", "titlePadding": 2}},
       "detail": {"field": "s", "type": "nominal"}}},
     {"data": {"name": "minor"}, "mark": {"type": "rule", "color": "#111", "strokeWidth": 0.7},
      "encoding": {"x": {"field": "x", "type": "quantitative", "axis": {"title": "Wave number (cm⁻¹)", "values": [3500, 3000, 2500, 2000, 1500, 1000, 500], "format": "d", "labelOverlap": false}}, "y": {"datum": 0, "type": "quantitative", "axis": {"title": "Absorbance", "titlePadding": 2}}, "y2": {"datum": -2}}},
     {"data": {"name": "b_arrows"}, "mark": {"type": "rule", "color": "#111", "strokeWidth": 0.6},
      "encoding": {"x": {"field": "x1", "type": "quantitative", "axis": {"title": "Wave number (cm⁻¹)", "values": [3500, 3000, 2500, 2000, 1500, 1000, 500], "format": "d", "labelOverlap": false}}, "y": {"field": "y1", "type": "quantitative", "axis": {"title": "Absorbance", "titlePadding": 2}}, "x2": {"field": "x2"}, "y2": {"field": "y2"}}},
     {"data": {"name": "b_arrows"}, "mark": {"type": "point", "shape": "triangle-down", "filled": true, "size": 6, "color": "#111", "opacity": 1},
      "encoding": {"x": {"field": "x2", "type": "quantitative", "axis": {"title": "Wave number (cm⁻¹)", "values": [3500, 3000, 2500, 2000, 1500, 1000, 500], "format": "d", "labelOverlap": false}}, "y": {"field": "y2", "type": "quantitative", "axis": {"title": "Absorbance", "titlePadding": 2}}}},
     {"data": {"name": "b_labels"}, "mark": {"type": "text", "fontSize": 4.5, "color": "#222"},
      "encoding": {"x": {"field": "x", "type": "quantitative", "axis": {"title": "Wave number (cm⁻¹)", "values": [3500, 3000, 2500, 2000, 1500, 1000, 500], "format": "d", "labelOverlap": false}}, "y": {"field": "y", "type": "quantitative", "axis": {"title": "Absorbance", "titlePadding": 2}}, "text": {"field": "t", "type": "nominal"}}},
     {"data": {"name": "b_names"}, "mark": {"type": "text", "fontSize": 5.5, "color": "#222"},
      "encoding": {"x": {"field": "x", "type": "quantitative", "axis": {"title": "Wave number (cm⁻¹)", "values": [3500, 3000, 2500, 2000, 1500, 1000, 500], "format": "d", "labelOverlap": false}}, "y": {"field": "y", "type": "quantitative", "axis": {"title": "Absorbance", "titlePadding": 2}}, "text": {"field": "t", "type": "nominal"}}},
     {"data": {"values": [{"t": "(b)", "x": 3619, "y": 158}]}, "mark": {"type": "text", "fontSize": 8.5, "fontWeight": "bold", "color": "#111"},
      "encoding": {"x": {"field": "x", "type": "quantitative", "axis": {"title": "Wave number (cm⁻¹)", "values": [3500, 3000, 2500, 2000, 1500, 1000, 500], "format": "d", "labelOverlap": false}}, "y": {"field": "y", "type": "quantitative", "axis": {"title": "Absorbance", "titlePadding": 2}}, "text": {"field": "t", "type": "nominal"}}}
    ]
   }
  ]
 },
 {
  "bounds": "flush",
  "spacing": 10,
  "hconcat": [
   {"width": 118, "height": 145, "data": {"values": [{"k": 1}]}, "mark": {"type": "rect", "opacity": 0}},
   {
    "width": 214, "height": 145,
    "layer": [
     {"data": {"name": "c_spectra"}, "mark": {"type": "line", "color": "#333", "strokeWidth": 0.9},
      "encoding": {
       "x": {"field": "x", "type": "quantitative", "scale": {"domain": [3750, 500], "nice": false, "zero": false}, "axis": {"title": "Wave number (cm⁻¹)", "values": [3500, 3000, 2500, 2000, 1500, 1000, 500], "format": "d", "titleFontSize": 8.5, "titlePadding": 2, "labelOverlap": false}},
       "y": {"field": "y", "type": "quantitative", "scale": {"domain": [0, 145], "nice": false, "zero": false}, "axis": {"title": "Absorbance"}},
       "detail": {"field": "s", "type": "nominal"}}},
     {"data": {"name": "minor"}, "mark": {"type": "rule", "color": "#111", "strokeWidth": 0.7},
      "encoding": {"x": {"field": "x", "type": "quantitative", "axis": {"title": "Wave number (cm⁻¹)", "values": [3500, 3000, 2500, 2000, 1500, 1000, 500], "format": "d", "titleFontSize": 8.5, "titlePadding": 2, "labelOverlap": false}}, "y": {"datum": 0, "type": "quantitative", "axis": {"title": "Absorbance"}}, "y2": {"datum": -2}}},
     {"data": {"name": "c_arrows"}, "mark": {"type": "rule", "color": "#111", "strokeWidth": 0.6},
      "encoding": {"x": {"field": "x1", "type": "quantitative", "axis": {"title": "Wave number (cm⁻¹)", "values": [3500, 3000, 2500, 2000, 1500, 1000, 500], "format": "d", "titleFontSize": 8.5, "titlePadding": 2, "labelOverlap": false}}, "y": {"field": "y1", "type": "quantitative", "axis": {"title": "Absorbance"}}, "x2": {"field": "x2"}, "y2": {"field": "y2"}}},
     {"data": {"name": "c_arrows"}, "mark": {"type": "point", "shape": "triangle-down", "filled": true, "size": 6, "color": "#111", "opacity": 1},
      "encoding": {"x": {"field": "x2", "type": "quantitative", "axis": {"title": "Wave number (cm⁻¹)", "values": [3500, 3000, 2500, 2000, 1500, 1000, 500], "format": "d", "titleFontSize": 8.5, "titlePadding": 2, "labelOverlap": false}}, "y": {"field": "y2", "type": "quantitative", "axis": {"title": "Absorbance"}}}},
     {"data": {"name": "c_labels"}, "mark": {"type": "text", "fontSize": 4.5, "color": "#222"},
      "encoding": {"x": {"field": "x", "type": "quantitative", "axis": {"title": "Wave number (cm⁻¹)", "values": [3500, 3000, 2500, 2000, 1500, 1000, 500], "format": "d", "titleFontSize": 8.5, "titlePadding": 2, "labelOverlap": false}}, "y": {"field": "y", "type": "quantitative", "axis": {"title": "Absorbance"}}, "text": {"field": "t", "type": "nominal"}}},
     {"data": {"name": "c_names"}, "mark": {"type": "text", "fontSize": 5.5, "color": "#222"},
      "encoding": {"x": {"field": "x", "type": "quantitative", "axis": {"title": "Wave number (cm⁻¹)", "values": [3500, 3000, 2500, 2000, 1500, 1000, 500], "format": "d", "titleFontSize": 8.5, "titlePadding": 2, "labelOverlap": false}}, "y": {"field": "y", "type": "quantitative", "axis": {"title": "Absorbance"}}, "text": {"field": "t", "type": "nominal"}}},
     {"data": {"values": [{"t": "(c)", "x": 3917, "y": 146}]}, "mark": {"type": "text", "fontSize": 8.5, "fontWeight": "bold", "color": "#111"},
      "encoding": {"x": {"field": "x", "type": "quantitative", "axis": {"title": "Wave number (cm⁻¹)", "values": [3500, 3000, 2500, 2000, 1500, 1000, 500], "format": "d", "titleFontSize": 8.5, "titlePadding": 2, "labelOverlap": false}}, "y": {"field": "y", "type": "quantitative", "axis": {"title": "Absorbance"}}, "text": {"field": "t", "type": "nominal"}}}
    ]
   }
  ]
 }
]
}
